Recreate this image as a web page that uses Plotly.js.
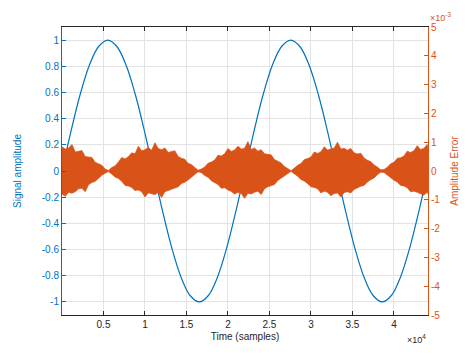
<!DOCTYPE html>
<html>
<head>
<meta charset="utf-8">
<script src="https://cdn.plot.ly/plotly-3.0.1.min.js"></script>
<style>html,body{margin:0;padding:0;background:#fff;}#chart{width:474px;height:355px;}</style>
</head>
<body>
<div id="chart"></div>
<script>
// Signal (left axis), sampled every 1102.5 samples
const sineStep = 1102.5;
const signalAmplitude = [
  0, 0.309, 0.588, 0.809, 0.951, 1, 0.951, 0.809, 0.588, 0.309,
  0, -0.309, -0.588, -0.809, -0.951, -1, -0.951, -0.809, -0.588, -0.309,
  0, 0.309, 0.588, 0.809, 0.951, 1, 0.951, 0.809, 0.588, 0.309,
  0, -0.309, -0.588, -0.809, -0.951, -1, -0.951, -0.809, -0.588, -0.309,
  0
];
// Amplitude error envelope (right axis, units of 1e-3), every 400 samples, last at 44100
const errStep = 400;
const errorUpper = [
  0.84,0.76,0.80,0.92,0.66,0.68,0.71,0.50,0.49,0.47,
  0.30,0.25,0.20,0.07,0.02,0.12,0.18,0.31,0.47,0.42,
  0.50,0.63,0.60,0.86,0.70,0.74,0.82,0.72,0.98,0.78,
  0.74,0.80,0.64,0.68,0.70,0.50,0.44,0.41,0.27,0.22,
  0.11,0.03,0.07,0.14,0.27,0.31,0.38,0.55,0.52,0.60,
  0.78,0.68,0.73,0.86,0.76,0.79,1.02,0.75,0.80,0.69,
  0.74,0.60,0.58,0.56,0.40,0.33,0.28,0.16,0.08,0.01,
  0.10,0.20,0.26,0.40,0.43,0.49,0.66,0.61,0.67,0.84,
  0.73,0.77,0.80,1.00,0.76,0.79,0.72,0.78,0.63,0.59,
  0.62,0.45,0.37,0.33,0.21,0.14,0.04,0.05,0.13,0.25,
  0.30,0.44,0.46,0.52,0.69,0.64,0.70,0.88,0.75,0.78,
  0.92,0.80
];
const errorLower = [
  -0.80,-0.88,-0.74,-0.77,-0.72,-0.62,-0.60,-0.72,-0.48,-0.40,
  -0.36,-0.24,-0.15,-0.08,-0.02,-0.11,-0.21,-0.26,-0.36,-0.50,
  -0.52,-0.57,-0.68,-0.66,-0.72,-0.90,-0.76,-0.79,-0.82,-0.75,
  -0.92,-0.72,-0.68,-0.64,-0.60,-0.55,-0.43,-0.39,-0.31,-0.20,
  -0.12,-0.03,-0.06,-0.16,-0.22,-0.34,-0.40,-0.47,-0.60,-0.58,
  -0.66,-0.71,-0.80,-0.74,-0.78,-0.95,-0.77,-0.80,-0.74,-0.70,
  -0.82,-0.62,-0.55,-0.50,-0.47,-0.33,-0.25,-0.18,-0.08,-0.01,
  -0.10,-0.18,-0.30,-0.35,-0.44,-0.55,-0.57,-0.62,-0.76,-0.70,
  -0.74,-0.86,-0.78,-0.76,-0.90,-0.75,-0.72,-0.76,-0.64,-0.58,
  -0.53,-0.50,-0.38,-0.30,-0.24,-0.13,-0.04,-0.05,-0.15,-0.22,
  -0.32,-0.38,-0.50,-0.52,-0.58,-0.72,-0.70,-0.74,-0.80,-0.84,
  -0.74,-0.80
];
const xTickVals = [5000,10000,15000,20000,25000,30000,35000,40000];
const xTickText = ['0.5','1','1.5','2','2.5','3','3.5','4'];
const yTickVals = [-1,-0.8,-0.6,-0.4,-0.2,0,0.2,0.4,0.6,0.8,1];
const yTickText = ['-1','-0.8','-0.6','-0.4','-0.2','0','0.2','0.4','0.6','0.8','1'];
const y2TickVals = [-5,-4,-3,-2,-1,0,1,2,3,4,5];
const y2TickText = ['-5','-4','-3','-2','-1','0','1','2','3','4','5'];

const xMax = 44100;
const sineX = signalAmplitude.map((_, k) => k * sineStep);
const errX = errorUpper.map((_, k) => Math.min(k * errStep, xMax));

const BLUE = '#0072BD', ORANGE = '#D95319', DARK = '#262626';
const FONT = 'Liberation Sans, Arial, Helvetica, sans-serif';

const traces = [
  {x: sineX, y: signalAmplitude, type: 'scatter', mode: 'lines',
   line: {color: BLUE, width: 1.2, shape: 'spline', smoothing: 1}, yaxis: 'y', hoverinfo: 'skip'},
  {x: errX, y: errorUpper, type: 'scatter', mode: 'lines',
   line: {color: ORANGE, width: 0.7}, yaxis: 'y2', hoverinfo: 'skip'},
  {x: errX, y: errorLower, type: 'scatter', mode: 'lines', fill: 'tonexty', fillcolor: ORANGE,
   line: {color: ORANGE, width: 0.7}, yaxis: 'y2', hoverinfo: 'skip'}
];

const layout = {
  width: 474, height: 355,
  margin: {l: 62, r: 46, t: 27, b: 40},
  paper_bgcolor: '#fff', plot_bgcolor: '#fff',
  showlegend: false,
  font: {family: FONT, size: 10, color: DARK},
  xaxis: {
    range: [1, xMax], tickvals: xTickVals, ticktext: xTickText,
    ticks: 'inside', ticklen: 4, tickcolor: DARK, showline: true, linecolor: DARK, linewidth: 1,
    mirror: 'ticks', showgrid: true, gridcolor: '#e3e3e3', zeroline: false,
    tickfont: {size: 10, color: DARK},
    title: {text: 'Time (samples)', font: {size: 10, color: DARK}, standoff: 3}
  },
  yaxis: {
    range: [-1.1, 1.1], tickvals: yTickVals, ticktext: yTickText,
    ticks: 'inside', ticklen: 4, tickcolor: BLUE, showline: true, linecolor: BLUE, linewidth: 1,
    showgrid: true, gridcolor: '#e3e3e3', zeroline: false,
    tickfont: {size: 10, color: BLUE},
    title: {text: 'Signal amplitude', font: {size: 10, color: BLUE}, standoff: 18}
  },
  yaxis2: {
    range: [-5, 5], tickvals: y2TickVals, ticktext: y2TickText,
    overlaying: 'y', side: 'right',
    ticks: 'inside', ticklen: 4, tickcolor: ORANGE, showline: true, linecolor: ORANGE, linewidth: 1,
    showgrid: false, zeroline: false,
    tickfont: {size: 10, color: ORANGE},
    title: {text: 'Amplitude Error', font: {size: 10, color: ORANGE}, standoff: 11}
  },
  annotations: [
    {xref: 'paper', yref: 'paper', x: 1.0, y: 1.0, xanchor: 'left', yanchor: 'bottom', yshift: 2,
     text: '×10<sup>-3</sup>', showarrow: false, font: {size: 9, color: ORANGE}},
    {xref: 'paper', yref: 'paper', x: 1.0, y: 0, xanchor: 'right', yanchor: 'middle', yshift: -24,
     text: '×10<sup>4</sup>', showarrow: false, font: {size: 9, color: DARK}}
  ]
};

Plotly.newPlot('chart', traces, layout, {displayModeBar: false, staticPlot: true});
</script>
</body>
</html>
